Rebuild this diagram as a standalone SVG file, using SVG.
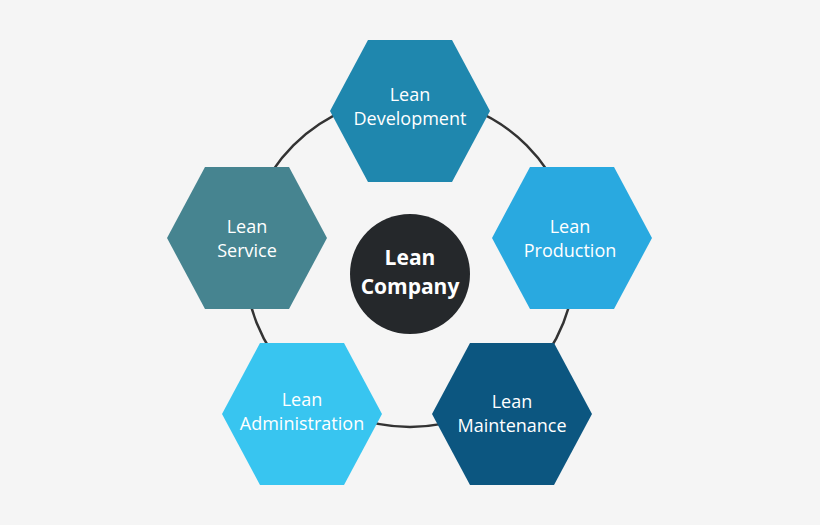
<svg xmlns="http://www.w3.org/2000/svg" width="820" height="525" viewBox="0 0 820 525">
<style>
text{font-family:"Open Sans","Liberation Sans",sans-serif;fill:#fff;text-anchor:middle;font-size:18px}
.c{font-weight:bold;font-size:21px}
</style>
<defs><polygon id="hx" points="-80,0 -42,-71 42,-71 80,0 42,71 -42,71"/></defs>
<rect width="820" height="525" fill="#f5f5f5"/>
<g id="connectors"><circle cx="410" cy="262" r="165" fill="none" stroke="#333" stroke-width="2.5"/></g>
<g id="dev"><use href="#hx" x="410" y="111" fill="#1f87ae"/><text x="410" y="101">Lean</text><text x="410" y="125">Development</text></g>
<g id="prod"><use href="#hx" x="572" y="238" fill="#29a9e0"/><text x="570" y="233">Lean</text><text x="570" y="257">Production</text></g>
<g id="serv"><use href="#hx" x="247" y="238" fill="#468490"/><text x="247" y="233">Lean</text><text x="247" y="257">Service</text></g>
<g id="admin"><use href="#hx" x="302" y="414" fill="#38c5f0"/><text x="302" y="406">Lean</text><text x="302" y="430">Administration</text></g>
<g id="maint"><use href="#hx" x="512" y="414" fill="#0c5680"/><text x="512" y="408">Lean</text><text x="512" y="432">Maintenance</text></g>
<g id="company"><circle cx="410" cy="274" r="60" fill="#25282b"/><text class="c" x="410" y="265">Lean</text><text class="c" x="410" y="294">Company</text></g>
</svg>
